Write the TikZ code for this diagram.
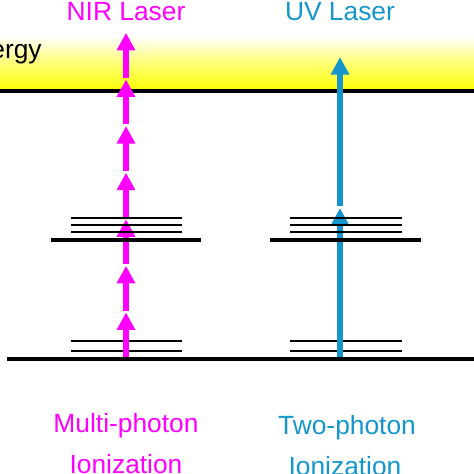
\documentclass[tikz,border=0pt]{standalone}
\usepackage{fontspec}
\setmainfont{Liberation Sans}
\usetikzlibrary{arrows.meta}
\definecolor{nirpink}{RGB}{255,0,255}
\definecolor{uvblue}{RGB}{20,150,204}

\begin{document}
\begin{tikzpicture}[x=0.02cm, y=-0.02cm,
  laser/.style={line width=3.6pt, shorten <=1pt, -{Triangle[width=10pt,length=10pt]}},
  level/.style={line width=2.2pt},
  sublevel/.style={line width=1.5pt},
  lbl/.style={font=\fontsize{15}{18}\selectfont, inner sep=0pt}]
\useasboundingbox[clip] (0,0) rectangle (474,474);

\def\xn{126};
\def\xu{340};

\def\yion{91};
\def\ymid{240};
\def\ygnd{359};

% ionization continuum
\shade[top color=white, bottom color=yellow, middle color=yellow!55] (0,36) rectangle (474,\yion);
\draw[level] (0,\yion) -- (474,\yion);
\node[lbl, anchor=base east] (en) at (42,58) {Energy};

% lower levels
\draw[sublevel] (71,341) -- (182,341);
\draw[sublevel] (71,351) -- (182,351);
\draw[sublevel] (290,341) -- (402,341);
\draw[sublevel] (290,351) -- (402,351);
\draw[level] (7,\ygnd) -- (474,\ygnd);

% NIR photons
\coordinate (m0) at (\xn,\ygnd);
\coordinate (m1) at (\xn,312.4);
\coordinate (m2) at (\xn,265.8);
\coordinate (m3) at (\xn,219.2);
\coordinate (m4) at (\xn,172.6);
\coordinate (m5) at (\xn,126);
\coordinate (m6) at (\xn,79.4);
\coordinate (m7) at (\xn,32.8);

\draw[laser, nirpink] (m0) -- (m1);
\draw[laser, nirpink] (m1) -- (m2);
\draw[laser, nirpink] (m2) -- (m3);
\draw[laser, nirpink] (m3) -- (m4);
\draw[laser, nirpink] (m4) -- (m5);
\draw[laser, nirpink] (m5) -- (m6);
\draw[laser, nirpink] (m6) -- (m7);

% UV photons
\coordinate (u0) at (\xu,\ygnd);
\coordinate (u1) at (\xu,208);
\coordinate (u2) at (\xu,57);

\draw[laser, uvblue] (u0) -- (u1);
\draw[laser, uvblue] (u1) -- (u2);

% intermediate levels
\draw[level] (51,\ymid) -- (201,\ymid);
\draw[level] (270,\ymid) -- (421,\ymid);
\draw[sublevel] (71,218) -- (182,218);
\draw[sublevel] (71,225) -- (182,225);
\draw[sublevel] (71,232) -- (182,232);
\draw[sublevel] (290,218) -- (402,218);
\draw[sublevel] (290,225) -- (402,225);
\draw[sublevel] (290,232) -- (402,232);

% labels
\node[lbl, nirpink, anchor=base] (nir) at (\xn,20) {NIR Laser};
\node[lbl, uvblue, anchor=base] (uv) at (\xu,20) {UV Laser};

\node[lbl, nirpink, anchor=base] (mp) at (\xn,432) {Multi-photon};
\node[lbl, nirpink, anchor=base] (mpi) at (\xn,473) {Ionization};
\node[lbl, uvblue, anchor=base] (tp) at (347,434) {Two-photon};
\node[lbl, uvblue, anchor=base] (tpi) at (345,475) {Ionization};

\end{tikzpicture}
\end{document}
